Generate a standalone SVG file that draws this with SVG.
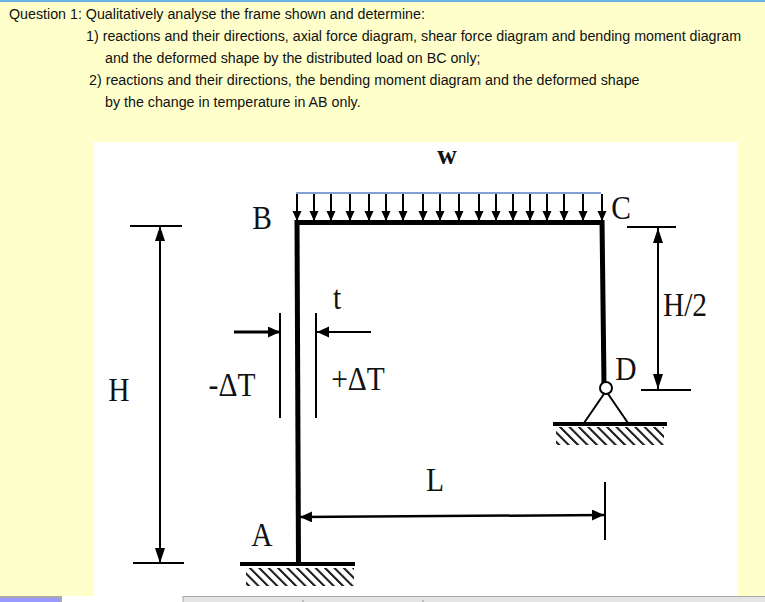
<svg xmlns="http://www.w3.org/2000/svg" width="765" height="602" viewBox="0 0 765 602">
<style>
.q{font-family:"Liberation Sans",Arial,sans-serif;font-size:14.25px;fill:#111}
.l{font-family:"Liberation Serif","Times New Roman",serif;font-size:29.5px;fill:#111;text-anchor:middle}
.m{fill:none;stroke:#000;stroke-linecap:butt}
.w{fill:none;stroke:#000;stroke-width:2;marker-end:url(#a)}
</style>
<defs>
<marker id="a" markerUnits="userSpaceOnUse" markerWidth="11" markerHeight="10" refX="10" refY="4.500" orient="auto"><path d="M0 0L10 4.500L0 9z" fill="#000"/></marker>
<marker id="b" markerUnits="userSpaceOnUse" markerWidth="16" markerHeight="12" refX="15" refY="5" orient="auto-start-reverse"><path d="M0 0L15 5L0 10z" fill="#000"/></marker>
<marker id="c" markerUnits="userSpaceOnUse" markerWidth="14" markerHeight="12" refX="12" refY="5.500" orient="auto-start-reverse"><path d="M0 0L12 5.500L0 11z" fill="#000"/></marker>
<pattern id="h" patternUnits="userSpaceOnUse" width="9.4" height="20" patternTransform="skewX(45)"><rect width="3" height="20" fill="#222"/></pattern>
</defs>
<rect width="765" height="602" fill="#ffffcc"/>
<rect width="765" height="2" fill="#6cb4e4"/>
<rect x="94" y="142" width="644" height="454" fill="#fff"/>
<rect x="0" y="596" width="765" height="6" fill="#fff"/>
<g id="toolbar"><rect x="-1" y="597" width="62" height="6" fill="#9999ff" stroke="#aaa" stroke-width="2"/><rect x="183" y="596.5" width="583" height="6" fill="#e4e4e4" stroke="#aaa"/><path d="M303 600V602M423 600V602" stroke="#999"/></g>
<g id="question">
<text class="q" x="9" y="19">Question 1: Qualitatively analyse the frame shown and determine:</text>
<text class="q" x="86" y="41">1) reactions and their directions, axial force diagram, shear force diagram and bending moment diagram</text>
<text class="q" x="105" y="63">and the deformed shape by the distributed load on BC only;</text>
<text class="q" x="89" y="85">2) reactions and their directions, the bending moment diagram and the deformed shape</text>
<text class="q" x="105" y="107">by the change in temperature in AB only.</text>
</g>
<g id="connectors">
<path d="M296 193H601" stroke="#5b82c8" stroke-width="1.500" fill="none"/>
<path class="w" d="M297 194V221"/><path class="w" d="M314 194V221"/><path class="w" d="M331 194V221"/><path class="w" d="M350 194V221"/><path class="w" d="M369 194V221"/><path class="w" d="M386 194V221"/><path class="w" d="M403 194V221"/><path class="w" d="M423 194V221"/><path class="w" d="M440 194V221"/><path class="w" d="M459 194V221"/><path class="w" d="M479 194V221"/><path class="w" d="M496 194V221"/><path class="w" d="M513 194V221"/><path class="w" d="M530 194V221"/><path class="w" d="M547 194V221"/><path class="w" d="M564 194V221"/><path class="w" d="M583 194V221"/><path class="w" d="M602 194V221"/>
<path class="m" stroke-width="2" d="M130 226H182M133 563H184M641 390H691M627 227H676"/>
<path class="m" stroke-width="2" marker-start="url(#b)" marker-end="url(#b)" d="M160 226V563"/>
<path class="m" stroke-width="2" marker-start="url(#b)" marker-end="url(#b)" d="M658 228V389"/>
<path class="m" stroke-width="2" d="M280 313V418M316 313V418M605 482V540"/>
<path class="m" stroke-width="3" marker-end="url(#c)" d="M234 332H280"/>
<path class="m" stroke-width="2" marker-end="url(#c)" d="M371 332H317"/>
<path class="m" stroke-width="2.500" marker-start="url(#c)" marker-end="url(#c)" d="M300 517L604 515"/>
</g>
<g id="frame">
<path class="m" stroke-width="5" d="M296 222.500H604"/>
<path class="m" stroke-width="5" d="M297 220L298.500 564"/>
<path class="m" stroke-width="5" d="M602 220L604 384"/>
</g>
<g id="support-a">
<rect x="240" y="562" width="115" height="4" fill="#000"/>
<rect x="246" y="568" width="108" height="18" fill="url(#h)"/>
</g>
<g id="support-d">
<path class="m" stroke-width="2" d="M584 423L606 391L628 423"/>
<rect x="553" y="422" width="114" height="4" fill="#000"/>
<rect x="556" y="427" width="108" height="18" fill="url(#h)"/>
<circle cx="606" cy="388" r="6" fill="#fff" stroke="#000" stroke-width="2"/>
</g>
<g id="labels">
<text class="l" x="447" y="164" style="font-size:27px;font-weight:bold">w</text>
<text class="l" transform="translate(262 229) scale(1 1.15)">B</text>
<text class="l" transform="translate(621 219) scale(1 1.15)">C</text>
<text class="l" transform="translate(626 380) scale(1 1.15)">D</text>
<text class="l" transform="translate(337 309) scale(1 1.15)">t</text>
<text class="l" transform="translate(119 401) scale(1 1.15)">H</text>
<text class="l" transform="translate(685 316) scale(1 1.15)">H/2</text>
<text class="l" transform="translate(232 396) scale(1 1.15)">-ΔT</text>
<text class="l" transform="translate(358 390) scale(1 1.15)">+ΔT</text>
<text class="l" transform="translate(435 491) scale(1 1.15)">L</text>
<text class="l" transform="translate(262 546) scale(1 1.15)">A</text>
</g>
</svg>
